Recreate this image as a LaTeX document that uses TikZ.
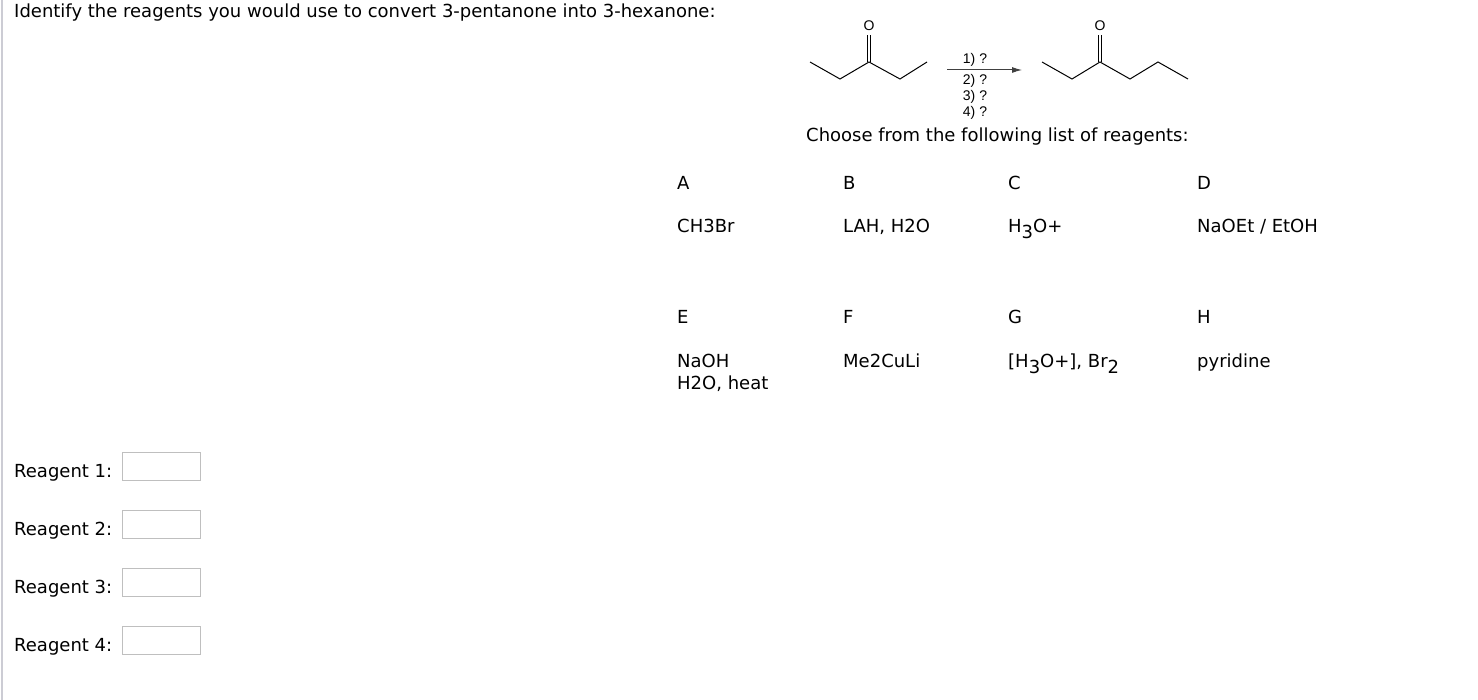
\documentclass[tikz,border=0pt]{standalone}
\usepackage{fontspec}
\usetikzlibrary{arrows.meta}
\setmainfont{DejaVu Sans}
\newfontfamily\smallf{Liberation Sans}
\begin{document}
\begin{tikzpicture}[x=1pt,y=-1pt,
 txt/.style={anchor=base west,inner sep=0pt,font=\fontsize{18}{21}\selectfont},
 sm/.style={anchor=base,inner sep=0pt,font=\smallf\fontsize{14}{16}\selectfont},
 bond/.style={line width=1pt},
 inbox/.style={draw=black!25,line width=1pt,minimum width=78pt,minimum height=28pt,inner sep=0pt,anchor=north west}]
\useasboundingbox (0,0) rectangle (1478,700);
\draw[color=blue!15!black!20,line width=1.2pt] (2,0) -- (2,700);
\newcommand{\sub}[1]{\raisebox{-6pt}{#1}}
\node[txt] (q) at (14,18) {Identify the reagents you would use to convert 3-pentanone into 3-hexanone:};
% left molecule
\coordinate (a1) at (810,62); \coordinate (a2) at (840,79); \coordinate (a3) at (869,62);
\coordinate (a4) at (900,79); \coordinate (a5) at (927,62); \coordinate (ao) at (869,35);
\draw[bond] (a1)--(a2)--(a3)--(a4)--(a5);
\draw[bond] ([xshift=-1.8pt]a3)--([xshift=-1.8pt]ao);
\draw[bond] ([xshift=1.8pt]a3)--([xshift=1.8pt]ao);
\node[sm] (o1) at (869,31) {O};
% arrow
\coordinate (s) at (947,70); \coordinate (e) at (1022,70);
\draw[line width=1pt,black!75,-{Latex[length=10pt,width=6pt]}] (s)--(e);
\node[sm] (r1) at (975,64) {1) ?};
\node[sm] (r2) at (975,85) {2) ?};
\node[sm] (r3) at (975,101) {3) ?};
\node[sm] (r4) at (975,117) {4) ?};
% right molecule
\coordinate (b1) at (1042,62); \coordinate (b2) at (1072,79); \coordinate (b3) at (1100,62);
\coordinate (b4) at (1130,79); \coordinate (b5) at (1158,62); \coordinate (b6) at (1188,79);
\coordinate (bo) at (1100,35);
\draw[bond] (b1)--(b2)--(b3)--(b4)--(b5)--(b6);
\draw[bond] ([xshift=-1.8pt]b3)--([xshift=-1.8pt]bo);
\draw[bond] ([xshift=1.8pt]b3)--([xshift=1.8pt]bo);
\node[sm] (o2) at (1100,31) {O};
\node[txt] (ch) at (806,142) {Choose from the following list of reagents:};
% grid
\node[txt] (A) at (677,190) {A};
\node[txt] (B) at (843,190) {B};
\node[txt] (C) at (1008,190) {C};
\node[txt] (D) at (1197,190) {D};
\node[txt] (ta) at (677,233) {CH3Br};
\node[txt] (tb) at (843,233) {LAH, H2O};
\node[txt] (tc) at (1008,233) {H\sub{3}O+};
\node[txt] (td) at (1197,233) {NaOEt / EtOH};
\node[txt] (E) at (677,324) {E};
\node[txt] (F) at (843,324) {F};
\node[txt] (G) at (1008,324) {G};
\node[txt] (H) at (1197,324) {H};
\node[txt] (te) at (677,368) {NaOH};
\node[txt] (te2) at (677,390) {H2O, heat};
\node[txt] (tf) at (843,368) {Me2CuLi};
\node[txt] (tg) at (1008,368) {[H\sub{3}O+], Br\sub{2}};
\node[txt] (th) at (1197,368) {pyridine};
% reagent inputs
\foreach \i/\y in {1/452,2/510,3/568,4/626}{
 \node[txt] (l\i) at (14,\y+25) {Reagent \i:};
 \node[inbox] (in\i) at (122,\y) {};
}
\end{tikzpicture}
\end{document}
